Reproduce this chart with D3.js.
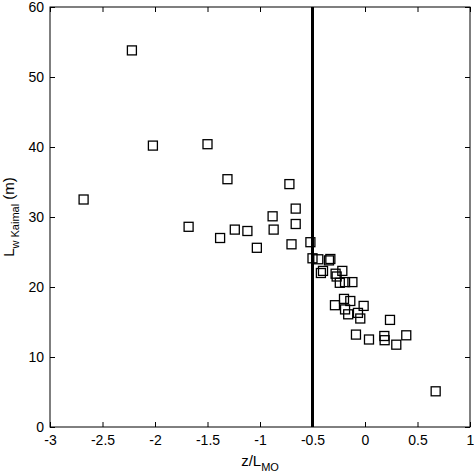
<!DOCTYPE html><html><head><script src="https://cdn.jsdelivr.net/npm/d3@7"></script>
<style>body{margin:0;background:#fff}text{font-family:Arial,"Liberation Sans",sans-serif}</style></head><body>
<svg id="c" width="474" height="474"></svg>
<script>
const xVals=[-2.68,-2.22,-2.02,-1.5,-1.68,-1.38,-1.31,-1.24,-1.12,-1.03,-0.88,-0.87,-0.72,-0.7,-0.66,-0.66,-0.52,
-0.50,-0.445,-0.343,-0.33,-0.42,-0.40,-0.28,-0.27,-0.216,-0.24,-0.19,-0.12,-0.2,-0.14,-0.286,-0.19,-0.16,-0.067,-0.013,-0.045,0.238,-0.086,0.038,0.184,0.187,0.298,0.393,0.673];
const yVals=[32.5,53.8,40.2,40.4,28.6,27,35.4,28.2,28,25.6,30.1,28.2,34.7,26.1,31.2,29,26.4,
24.1,23.96,23.8,24.0,22.0,22.3,21.9,21.5,22.3,20.6,20.7,20.7,18.3,18.0,17.4,16.8,16.1,16.3,17.3,15.5,15.3,13.2,12.5,13.0,12.4,11.76,13.1,5.1];
const xTicks=[-3,-2.5,-2,-1.5,-1,-0.5,0,0.5,1];
const yTicks=[0,10,20,30,40,50,60];
const refLine=-0.5;
const L=50,R=470,T=7,B=427;
const svg=d3.select("#c");
const x=d3.scaleLinear().domain([-3,1]).range([L,R]);
const y=d3.scaleLinear().domain([0,60]).range([B,T]);
const fmt=d=>String(d).replace("-","-");
function ax(g,a){g.call(a);g.select(".domain").remove();g.selectAll("line").attr("stroke","#000");g.selectAll("text").attr("font-size",14).attr("fill","#000");}
svg.append("g").attr("transform",`translate(0,${B})`).call(g=>ax(g,d3.axisBottom(x).tickValues(xTicks).tickSize(-5).tickPadding(8).tickFormat(fmt)));
svg.append("g").attr("transform",`translate(0,${T})`).call(g=>ax(g,d3.axisTop(x).tickValues(xTicks).tickSize(-5).tickFormat("")));
svg.append("g").attr("transform",`translate(${L},0)`).call(g=>ax(g,d3.axisLeft(y).tickValues(yTicks).tickSize(-5).tickPadding(6)));
svg.append("g").attr("transform",`translate(${R},0)`).call(g=>ax(g,d3.axisRight(y).tickValues(yTicks).tickSize(-5).tickFormat("")));
svg.append("rect").attr("x",L).attr("y",T).attr("width",R-L).attr("height",B-T).attr("fill","none").attr("stroke","#000").attr("stroke-width",1);
svg.append("line").attr("x1",x(refLine)).attr("x2",x(refLine)).attr("y1",T).attr("y2",B).attr("stroke","#000").attr("stroke-width",3);
svg.append("g").selectAll("rect").data(xVals.map((v,i)=>[v,yVals[i]])).join("rect")
 .attr("x",d=>x(d[0])-4.5).attr("y",d=>y(d[1])-4.5).attr("width",9).attr("height",9)
 .attr("fill","none").attr("stroke","#000").attr("stroke-width",1.3);
const xl=svg.append("text").attr("x",(L+R)/2).attr("y",466).attr("text-anchor","middle").attr("font-size",15);
xl.append("tspan").text("z/L");xl.append("tspan").attr("font-size",11).attr("dy",5).text("MO");
const yl=svg.append("text").attr("transform",`translate(14,${(T+B)/2}) rotate(-90)`).attr("text-anchor","middle").attr("font-size",15);
yl.append("tspan").text("L");yl.append("tspan").attr("font-size",11).attr("dy",5).text("w Kaimal");yl.append("tspan").attr("dy",-5).text(" (m)");
</script></body></html>
